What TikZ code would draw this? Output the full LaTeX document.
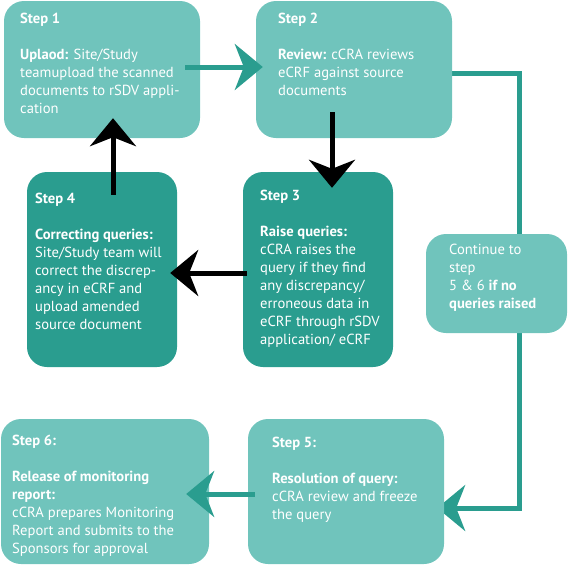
\documentclass[tikz,border=0pt]{standalone}
\usepackage{fontspec}
\setmainfont{PT Sans}
\usetikzlibrary{arrows.meta}
\pgfdeclarelayer{background}
\pgfsetlayers{background,main}
\definecolor{lightteal}{HTML}{70C4BC}
\definecolor{darkteal}{HTML}{2A9D8F}
\definecolor{arrowteal}{HTML}{2A9D8F}
\tikzset{
  box/.style={rounded corners=20pt, inner sep=0pt, draw=none},
  lightbox/.style={box, fill=lightteal},
  darkbox/.style={box, fill=darkteal},
  txt/.style={text=white, align=left, inner sep=0pt, anchor=base west,
    font=\fontsize{14.6}{18}\selectfont},
  bighead/.style={-{Stealth[length=28pt, width=46pt, inset=9pt]}},
  tealarrow/.style={bighead, draw=arrowteal, line width=5pt},
  blackarrow/.style={bighead, draw=black, line width=5pt},
}
\begin{document}
\begin{tikzpicture}[x=1pt, y=-1pt]
\useasboundingbox (0,0) rectangle (568,566);
\node[lightbox, minimum width=196pt, minimum height=137pt] (b1) at (102,69.5) {};
\node[lightbox, minimum width=196pt, minimum height=137pt] (b2) at (354,69.5) {};
\node[darkbox, minimum width=150pt, minimum height=195pt] (b4) at (102,269.5) {};
\node[darkbox, minimum width=150pt, minimum height=195pt] (b3) at (318,269.5) {};
\node[lightbox, minimum width=141pt, minimum height=99pt] (bc) at (496.5,283.5) {};
\node[lightbox, minimum width=208pt, minimum height=145pt] (b6) at (105,491.5) {};
\node[lightbox, minimum width=196pt, minimum height=145pt] (b5) at (346,491.5) {};
% connector behind the "continue" box
\begin{pgfonlayer}{background}
\draw[tealarrow] ([xshift=-14pt, yshift=-3.5pt]b2.east) -| ([xshift=-48pt, yshift=-16.5pt]bc.east |- b5.east) coordinate (c1) -- ([xshift=-7pt, yshift=-16.5pt]b5.east);
\end{pgfonlayer}
% texts (anchored at the baseline of their last line)
\node[txt] (t1) at (20,113) {\textbf{Step 1}\\[18pt]\textbf{Uplaod:} Site/Study\\teamupload the scanned\\documents to rSDV appli-\\cation};
\node[txt] (t2) at (278,95) {\textbf{Step 2}\\[18pt]\textbf{Review:} cCRA reviews\\eCRF against source\\documents};
\node[txt] (t4) at (35,329) {\textbf{Step 4}\\[18pt]\textbf{Correcting queries:}\\Site/Study team will\\correct the discrep-\\ancy in eCRF and\\upload amended\\source document};
\node[txt] (t3) at (260,344) {\textbf{Step 3}\\[18pt]\textbf{Raise queries:}\\cCRA raises the\\query if they find\\any discrepancy/\\erroneous data in\\eCRF through rSDV\\application/ eCRF};
\node[txt] (tc) at (449,308) {Continue to\\step\\5 \& 6 \textbf{if no}\\\textbf{queries raised}};
\node[txt] (t6) at (12,553) {\textbf{Step 6:}\\[18pt]\textbf{Release of monitoring}\\\textbf{report:}\\cCRA prepares Monitoring\\Report and submits to the\\Sponsors for approval};
\node[txt] (t5) at (272,519) {\textbf{Step 5:}\\[18pt]\textbf{Resolution of query:}\\cCRA review and freeze\\the query};
% connectors
\draw[tealarrow] ([xshift=-15pt, yshift=2.5pt]b1.east) -- ([xshift=7pt, yshift=2.5pt]b2.west);
\draw[blackarrow] ([xshift=-22pt, yshift=26pt]b2.south) -- ([xshift=14pt, yshift=-16pt]b3.north);
\draw[blackarrow] ([xshift=4pt, yshift=-3.5pt]b3.west) -- ([xshift=-7pt, yshift=-3.5pt]b4.east);
\draw[blackarrow] ([xshift=11pt, yshift=-23pt]b4.north) -- ([xshift=11pt, yshift=20pt]b1.south);
\draw[tealarrow] ([xshift=7pt, yshift=-2.5pt]b5.west) -- ([xshift=-23pt, yshift=-2.5pt]b6.east);
\end{tikzpicture}
\end{document}
